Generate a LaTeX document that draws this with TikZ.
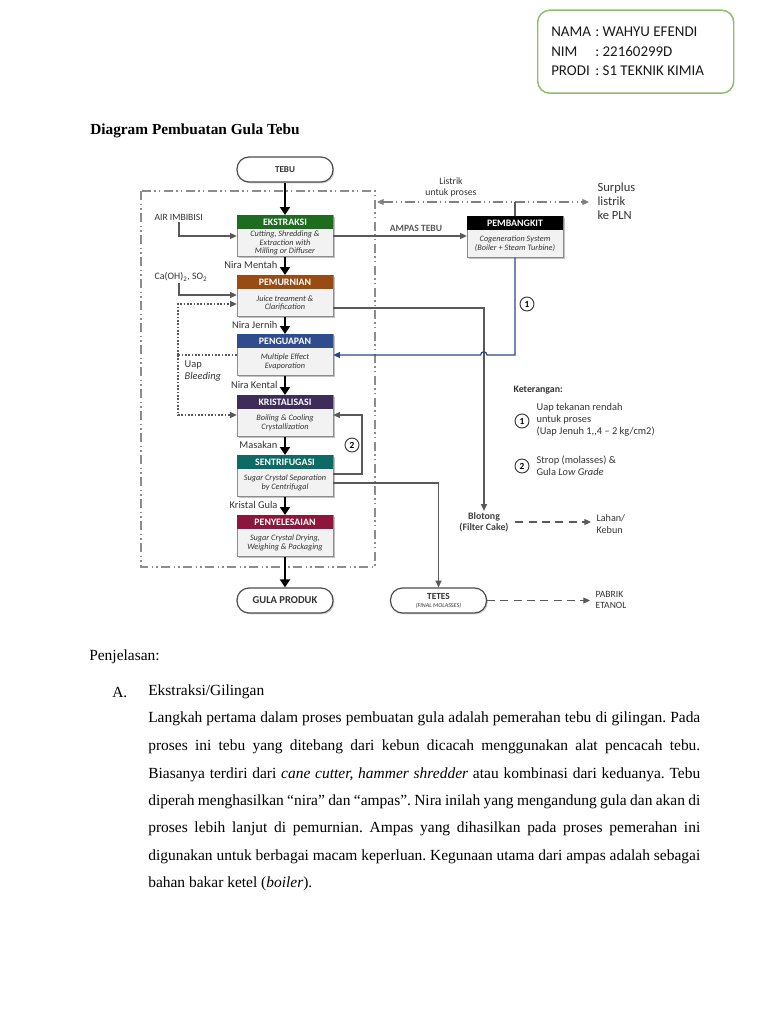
\documentclass[tikz,border=0pt]{standalone}
\usepackage{fontspec}
\setmainfont{Liberation Serif}
\newfontfamily\calib{Carlito}
\usetikzlibrary{arrows.meta,shadows,calc}
\frenchspacing
\definecolor{cEks}{RGB}{30,108,32}
\definecolor{cPem}{RGB}{152,76,20}
\definecolor{cPeng}{RGB}{47,77,140}
\definecolor{cKri}{RGB}{62,45,90}
\definecolor{cSen}{RGB}{14,106,100}
\definecolor{cPeny}{RGB}{140,22,60}
\definecolor{cBlue}{RGB}{40,70,140}
\definecolor{cGreen}{RGB}{141,191,107}
\newcommand\setfs[2]{\fontsize{#1}{#2}\selectfont}
\newcommand\pbox[6]{%
  \node[bodybox, anchor=north] (#1) at (#2,#3) {};
  \node[headbox, fill=#4, anchor=north] (#1h) at (#1.north) {#5};
  \node[bodytext] (#1t) at ($(#1h.south)!0.5!(#1.south)$) {#6};
}
\begin{document}
\begin{tikzpicture}[x=0.75pt,y=-0.75pt,
  bodybox/.style={draw=black!45, fill=black!5, minimum width=72pt, minimum height=30.75pt, inner sep=0pt,
    drop shadow={shadow xshift=1.2pt, shadow yshift=-1.2pt, fill=black!40, opacity=0.6}},
  headbox/.style={minimum width=72pt, minimum height=10.5pt, inner sep=0pt, text=white,
    font=\calib\bfseries\setfs{7.4}{8}},
  bodytext/.style={font=\calib\itshape\setfs{6.2}{6.5}, align=center, text=black!80, inner sep=0pt},
  pill/.style={draw=black!70, line width=0.9pt, rounded corners=9pt, fill=white, minimum width=72pt,
    minimum height=18.75pt, inner sep=0pt, align=center, font=\calib\bfseries\setfs{7}{7.5}, text=black!80,
    drop shadow={shadow xshift=1pt, shadow yshift=-1pt, fill=black!35, opacity=0.5}},
  flow/.style={line width=1.8pt, -{Triangle[length=6pt,width=7.5pt]}},
  gline/.style={draw=black!65, line width=0.9pt},
  garrow/.style={gline, -{Triangle[length=5pt,width=4.5pt]}},
  dasharrow/.style={draw=black!65, line width=0.8pt, dash pattern=on 6pt off 4pt, -{Triangle[length=5pt,width=4.5pt]}},
  dotline/.style={draw=black!65, line width=0.9pt, dash pattern=on 1.2pt off 1.3pt},
  dotarrow/.style={dotline, -{Triangle[length=5pt,width=4.5pt]}},
  ddline/.style={draw=black!45, line width=0.8pt, dash pattern=on 7pt off 2.5pt on 1pt off 2.5pt on 1pt off 2.5pt},
  lbl/.style={font=\calib\setfs{7.8}{8.6}, text=black!80, inner sep=1pt},
  num/.style={circle, draw=black!80, line width=0.7pt, inner sep=0pt, minimum size=10.5pt, fill=white,
    font=\calib\bfseries\setfs{7}{7}},
  para/.style={font=\setfs{11.6}{14}, anchor=west, inner sep=0pt}
]
\useasboundingbox (0,0) rectangle (768,1024);
\fill[white] (0,0) rectangle (768,1024);

% identity box
\node[draw=cGreen, line width=1.1pt, rounded corners=9pt, minimum width=147pt, minimum height=62.25pt,
  anchor=north west, inner sep=0pt] (idbox) at (537,9.5) {};
\begin{scope}[every node/.style={font=\calib\setfs{11.2}{12}, text=black!90, anchor=west, inner sep=0pt}]
\node (k1) at (551,32) {NAMA};
\node (k2) at (551,52) {NIM};
\node (k3) at (551,71) {PRODI};
\node (v1) at (595,32) {: WAHYU EFENDI};
\node (v2) at (595,52) {: 22160299D};
\node (v3) at (595,71) {: S1 TEKNIK KIMIA};
\end{scope}

% title
\node[font=\bfseries\setfs{11.5}{13}, anchor=west, inner sep=0pt] (title) at (90,131) {Diagram Pembuatan Gula Tebu};

% dash-dot boundary
\draw[ddline] (141,191) rectangle (375,567);

% main column
\node[pill, font=\calib\bfseries\setfs{6.8}{7}] (tebu) at (285,169.5) {TEBU};
\pbox{eks}{285}{215}{cEks}{EKSTRAKSI}{Cutting, Shredding \&\\Extraction with\\Milling or Diffuser}
\pbox{pem}{285}{275}{cPem}{PEMURNIAN}{Juice treament \&\\Clarification}
\pbox{peng}{285}{334}{cPeng}{PENGUAPAN}{Multiple Effect\\Evaporation}
\pbox{kri}{285}{395}{cKri}{KRISTALISASI}{Boiling \& Cooling\\Crystallization}
\pbox{sen}{285}{455}{cSen}{SENTRIFUGASI}{Sugar Crystal Separation\\by Centrifugal}
\pbox{peny}{285}{515}{cPeny}{PENYELESAIAN}{Sugar Crystal Drying,\\Weighing \& Packaging}
\node[pill, font=\calib\bfseries\setfs{7.9}{8}] (gula) at (285,600.5) {GULA PRODUK};

\draw[flow] (tebu.south) -- (eks.north);
\draw[flow] (eks.south) -- (pem.north);
\draw[flow] (pem.south) -- (peng.north);
\draw[flow] (peng.south) -- (kri.north);
\draw[flow] (kri.south) -- (sen.north);
\draw[flow] (sen.south) -- (peny.north);
\draw[flow] (peny.south) -- (gula.north);

\node[lbl, anchor=east] (lm) at (279,265) {Nira Mentah};
\node[lbl, anchor=east] (lj) at (279,325) {Nira Jernih};
\node[lbl, anchor=east] (lk) at (279,385) {Nira Kental};
\node[lbl, anchor=east] (lmas) at (279,445) {Masakan};
\node[lbl, anchor=east] (lkg) at (279,505) {Kristal Gula};

% inputs
\node[lbl, anchor=west, font=\calib\setfs{7.2}{8}] (air) at (153,217) {AIR IMBIBISI};
\node[lbl, anchor=west, font=\calib\setfs{7.4}{8}] (caoh) at (153,277) {Ca(OH)\textsubscript{2}, SO\textsubscript{2}};
\draw[garrow] (air.south -| 179,0) |- (eks.west |- 0,236);
\draw[garrow] (caoh.south -| 179,0) |- (pem.west |- 0,295);

% vapour bleeding
\coordinate (bl) at (178,355);
\draw[dotline] (peng.west |- 0,355) -- (bl);
\draw[dotarrow] (bl) |- (pem.west |- 0,304);
\draw[dotarrow] (bl) |- (kri.west |- 0,415);
\node[lbl, anchor=west, align=left, font=\calib\setfs{7.8}{8.8}] (uap) at (183,371) {Uap\\\textit{Bleeding}};

% power plant
\pbox{pbk}{515}{216}{black}{PEMBANGKIT}{Cogeneration System\\(Boiler + Steam Turbine)}
\draw[garrow] (eks.east |- 0,236) -- (pbk.west |- 0,236);
\node[lbl, font=\calib\bfseries\setfs{7.2}{8}, text=black!65] (ampas) at (416,228) {AMPAS TEBU};

\coordinate (lL) at (377,202);
\coordinate (lR) at (589,202);
\draw[ddline, draw=black!50, {Triangle[length=5pt,width=4.5pt]}-{Triangle[length=5pt,width=4.5pt]}] (lL) -- (lR);
\draw[gline] (pbk.north) -- (pbk.north |- lL);
\node[lbl, align=center, font=\calib\setfs{7.3}{8.2}] (listrik) at (451,187) {Listrik\\untuk proses};
\node[lbl, anchor=west, align=left, font=\calib\setfs{9.4}{10.5}] (surplus) at (596,201) {Surplus\\listrik\\ke PLN};

% filter cake line
\node[lbl, align=center, font=\calib\bfseries\setfs{7.4}{8}, text=black!75] (blot) at (484,522) {Blotong\\(Filter Cake)};
\draw[garrow] (pem.east |- 0,308) -| (blot.north);

% steam line (blue) with hop
\draw[draw=cBlue, line width=0.9pt, -{Triangle[length=5pt,width=4.5pt]}]
  (pbk.south) -- (pbk.south |- 0,355) -- (487,355) arc[start angle=0,end angle=180,radius=2.4pt]
  -- (peng.east |- 0,355);
\node[num] (n1) at (527,304) {1};

% recycle 2
\draw[garrow] (sen.east |- 0,474) -- (362,474) -- (362,415) -- (kri.east |- 0,415);
\node[num] (n2) at (352,445) {2};

% molasses
\node[pill] (tetes) at (438.5,600.5) {TETES\\[-1.5pt]{\itshape\mdseries\setfs{4.5}{5}(FINAL MOLASSES)}};
\draw[garrow] (sen.east |- 0,483) -| (tetes.north);
\node[lbl, anchor=west, align=left, font=\calib\setfs{7.2}{8.4}] (pabrik) at (594,600) {PABRIK\\ETANOL};
\draw[dasharrow, shorten >=3pt] (tetes.east) -- (pabrik.west |- tetes.east);

\node[lbl, anchor=west, align=left, font=\calib\setfs{7.6}{8.4}] (lahan) at (595,524) {Lahan/\\Kebun};
\draw[dasharrow, shorten <=4pt, shorten >=3pt] (blot.east) -- (lahan.west |- blot.east);

% legend
\node[lbl, anchor=west, font=\calib\bfseries\setfs{7.4}{8}] (ket) at (512,390) {Keterangan:};
\node[num] (l1) at (522,421) {1};
\node[lbl, anchor=west, align=left, font=\calib\setfs{7.8}{8.8}] (l1t) at (535,420) {Uap tekanan rendah\\untuk proses\\(Uap Jenuh 1,,4 – 2 kg/cm2)};
\node[num] (l2) at (522,466) {2};
\node[lbl, anchor=west, align=left, font=\calib\setfs{7.8}{8.8}] (l2t) at (535,466) {Strop (molasses) \&\\Gula \textit{Low Grade}};

% text
\node[para] (pj) at (89,657) {Penjelasan:};
\node[para] (pa) at (112,692) {A.};
\node[para] (pah) at (148,692) {Ekstraksi/Gilingan};
\node[para] (p1) at (148,719) {\makebox[414pt][s]{Langkah pertama dalam proses pembuatan gula adalah pemerahan tebu di gilingan. Pada}};
\node[para] (p2) at (148,747) {\makebox[414pt][s]{proses ini tebu yang ditebang dari kebun dicacah menggunakan alat pencacah tebu.}};
\node[para] (p3) at (148,775) {\makebox[414pt][s]{Biasanya terdiri dari \textit{cane cutter, hammer shredder} atau kombinasi dari keduanya. Tebu}};
\node[para] (p4) at (148,802) {\makebox[414pt][s]{diperah menghasilkan “nira” dan “ampas”. Nira inilah yang mengandung gula dan akan di}};
\node[para] (p5) at (148,829) {\makebox[414pt][s]{proses lebih lanjut di pemurnian. Ampas yang dihasilkan pada proses pemerahan ini}};
\node[para] (p6) at (148,857) {\makebox[414pt][s]{digunakan untuk berbagai macam keperluan. Kegunaan utama dari ampas adalah sebagai}};
\node[para] (p7) at (148,884) {bahan bakar ketel (\textit{boiler}).};
\end{tikzpicture}
\end{document}
